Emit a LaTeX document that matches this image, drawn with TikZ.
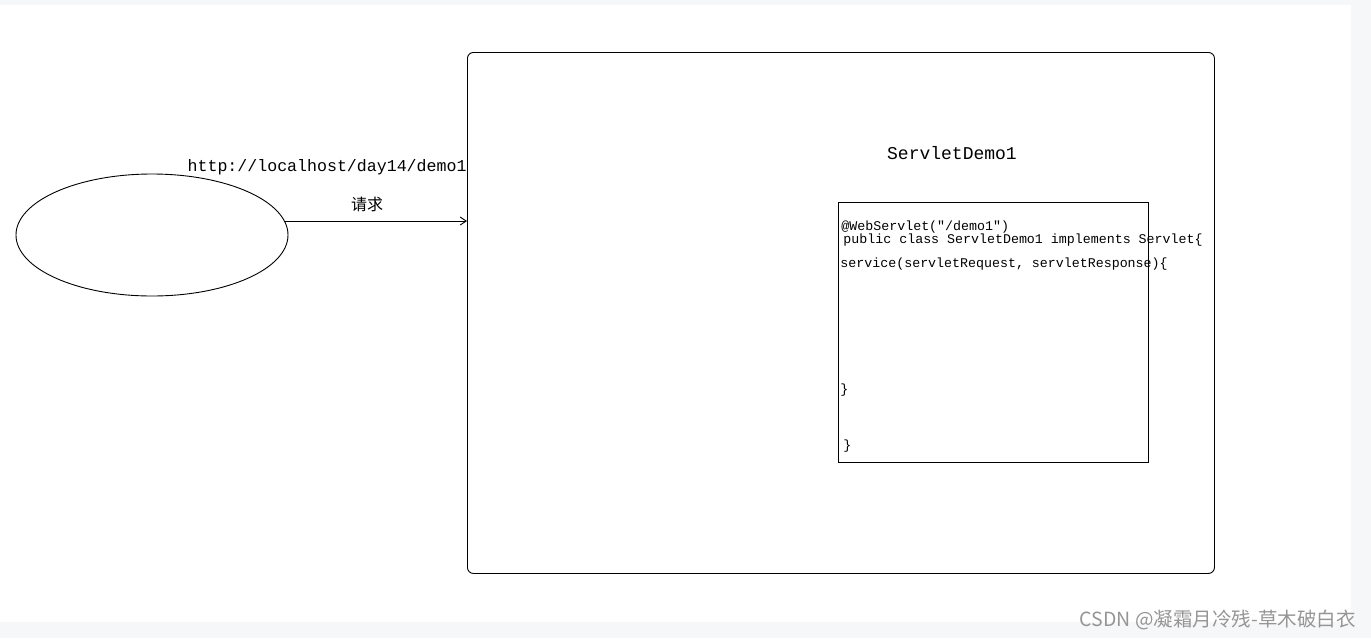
\documentclass[tikz,border=0pt]{standalone}
\usepackage{fontspec}
\setmonofont{Liberation Mono}
\newfontfamily\cjk{Noto Sans CJK SC}
\usetikzlibrary{arrows.meta}
\usetikzlibrary{shapes.geometric}
\usetikzlibrary{positioning}
\definecolor{pagegrey}{HTML}{F6F7F9}
\definecolor{markgrey}{HTML}{959595}
\tikzset{
code line/.style={font=\ttfamily\fontsize{13.3}{13.3}\selectfont, anchor=west, inner sep=0pt},
box it/.style={draw, inner sep=0pt, anchor=north west},
}
\begin{document}
\begin{tikzpicture}[x=1pt,y=-1pt,line width=0.9pt]
    \fill[pagegrey] (0,0) rectangle (1371,638);
    \fill[white] (0,5) rectangle (1351,622);
    \node[draw, ellipse, inner sep=0pt, minimum width=272, minimum height=122] (client) at (152,235) {};
    \node[box it, rounded corners=6, minimum width=747, minimum height=521] (server) at (467,52) {};
    \node[box it, minimum width=310, minimum height=260] (servlet) at (838,202) {};
    \draw[-{Straight Barb[length=6pt,width=8pt]}] (client.6) -- (client.6 -| server.west);
    \node[font=\cjk\fontsize{16}{16}\selectfont] (req) at (367,204) {请求};
    \node[font=\ttfamily\fontsize{16.6}{16.6}\selectfont, anchor=east, inner sep=0pt] (url) at (467,167) {http://localhost/day14/demo1};
    \node[font=\ttfamily\fontsize{18}{18}\selectfont] (title) at (952,153) {ServletDemo1};
    \node[code line] (anno) at (841,227) {@WebServlet("/demo1")};
    \node[code line] (decl) at (843,240) {public class ServletDemo1 implements Servlet\{};
    \node[code line] (svc) at (840,264) {service(servletRequest, servletResponse)\{};
    \node[code line] (close1) at (840,390) {\}};
    \node[code line] (close2) at (843,446) {\}};
    \node[font=\cjk\fontsize{19.5}{19.5}\selectfont, text=markgrey, anchor=east, inner sep=0pt] (mark) at (1356,620) {CSDN @凝霜月冷残-草木破白衣};
\end{tikzpicture}
\end{document}
